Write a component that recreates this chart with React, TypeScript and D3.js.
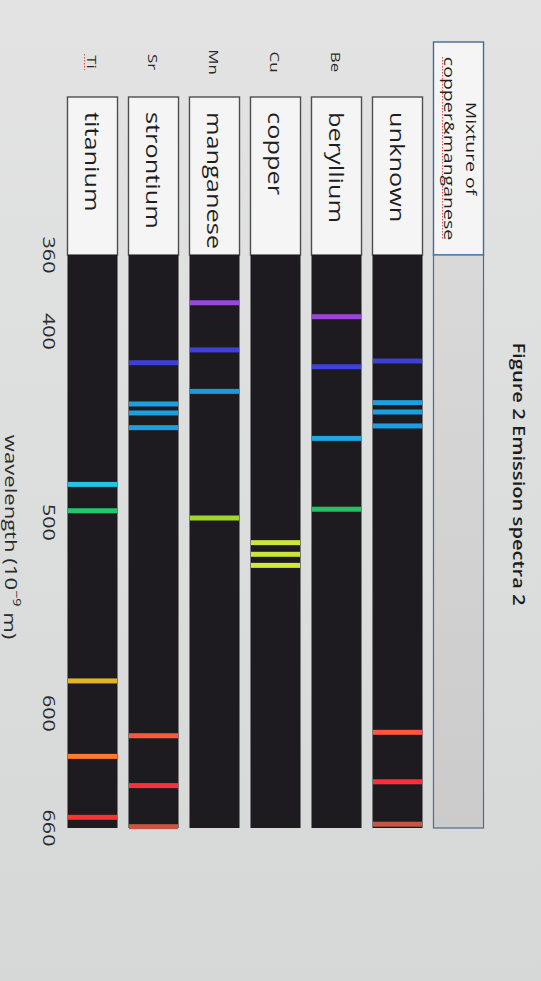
import React from "react";
import * as d3 from "d3";

const W = 541;
const H = 981;

// Spectrum rows, listed from the top of the figure downwards (before rotation)
const sampleKeys = ["mixture", "unknown", "beryllium", "copper", "manganese", "strontium", "titanium"];
const sampleNames = ["", "unknown", "beryllium", "copper", "manganese", "strontium", "titanium"];
const sampleSymbols = ["", "", "Be", "Cu", "Mn", "Sr", "Ti"];
const mixtureLabel = ["Mixture of", "copper&manganese"];

const wavelengthTicks = [360, 400, 500, 600, 660];

// Emission lines (nm) and their displayed colours
const unknownNm = [415.5, 437.3, 442.2, 449.5, 609.9, 635.8, 658.0];
const unknownHue = ["#3d3fd4", "#1f9fe0", "#1f9fe0", "#1f9fe0", "#ff573c", "#ff2f3a", "#c85640"];
const berylliumNm = [392.3, 418.5, 456.0, 493.1];
const berylliumHue = ["#9a44d6", "#3d42d8", "#22a6e2", "#26c163"];
const copperNm = [510.6, 516.7, 522.5];
const copperHue = ["#cde53a", "#cde53a", "#d3e83c"];
const manganeseNm = [385.0, 409.7, 431.4, 497.7];
const manganeseHue = ["#9a46dc", "#3f40d4", "#1e98e0", "#9fd62a"];
const strontiumNm = [416.4, 438.0, 442.7, 450.4, 611.7, 637.8, 659.3];
const strontiumHue = ["#3d3fd4", "#1f9fe0", "#1f9fe0", "#1f9fe0", "#ff573c", "#ff2f3a", "#c85640"];
const titaniumNm = [480.1, 493.9, 583.0, 622.5, 654.4];
const titaniumHue = ["#26c3e6", "#20c86a", "#e2b426", "#ff7a2c", "#ff3232"];

const spectra: Record<string, { nm: number[]; hue: string[] }> = {
  mixture: { nm: [], hue: [] },
  unknown: { nm: unknownNm, hue: unknownHue },
  beryllium: { nm: berylliumNm, hue: berylliumHue },
  copper: { nm: copperNm, hue: copperHue },
  manganese: { nm: manganeseNm, hue: manganeseHue },
  strontium: { nm: strontiumNm, hue: strontiumHue },
  titanium: { nm: titaniumNm, hue: titaniumHue },
};

const FONT = "'Open Sans', 'Noto Sans', sans-serif";
const STRETCH = 1.3;

export default function App() {
  const x = d3.scaleLinear().domain([360, 660]).range([255, 828]);
  const row = d3
    .scaleBand<string>()
    .domain(sampleKeys)
    .range([52, 479])
    .paddingInner(0.18)
    .paddingOuter(0.09);
  const bw = row.bandwidth();

  const labelStart = 97;
  const mixLabelStart = 42;
  const lineW = 5;

  const stretched = (u: number, v: number) => `translate(${u},${v}) scale(${STRETCH},1)`;

  return (
    <svg
      width={W}
      height={H}
      style={{ position: "absolute", left: 0, top: 0, display: "block" }}
    >
      <defs>
        <linearGradient id="bg" x1="0" y1="0" x2="0" y2="1">
          <stop offset="0" stopColor="#e3e3e3" />
          <stop offset="1" stopColor="#d6d8d8" />
        </linearGradient>
        <linearGradient id="mixFill" x1="0" y1="0" x2="1" y2="0">
          <stop offset="0" stopColor="#d9d9d9" />
          <stop offset="1" stopColor="#cbcbcb" />
        </linearGradient>
        <filter id="soft" x="-20%" y="-20%" width="140%" height="140%">
          <feGaussianBlur stdDeviation="0.6" />
        </filter>
      </defs>
      <rect width={W} height={H} fill="url(#bg)" />

      <g transform={`translate(${W},0) rotate(90)`} fontFamily={FONT}>
        {/* title */}
        <text
          transform={stretched(474, 22)}
          textAnchor="middle"
          dominantBaseline="central"
          fontSize={15.5}
          fontWeight={600}
          fill="#1c1c1c"
        >
          Figure 2 Emission spectra  2
        </text>

        {sampleKeys.map((key, i) => {
          const v0 = row(key)!;
          const vc = v0 + bw / 2;
          const isMix = key === "mixture";
          const s = spectra[key];
          return (
            <g key={key}>
              {/* name box */}
              <rect
                x={isMix ? mixLabelStart : labelStart}
                y={v0}
                width={x.range()[0] - (isMix ? mixLabelStart : labelStart)}
                height={bw}
                fill="#f5f5f5"
                stroke={isMix ? "#3f6b9e" : "#4e4e4e"}
                strokeWidth={1.4}
              />
              {/* spectrum strip */}
              <rect
                x={x.range()[0]}
                y={v0}
                width={x.range()[1] - x.range()[0]}
                height={bw}
                fill={isMix ? "url(#mixFill)" : "#1d1a20"}
                stroke={isMix ? "#4a6c96" : "none"}
                strokeWidth={isMix ? 1.2 : 0}
              />
              <g filter="url(#soft)">
                {s.nm.map((nm, j) => (
                  <rect
                    key={j}
                    x={x(nm) - lineW / 2}
                    y={v0 + 0.5}
                    width={lineW}
                    height={bw - 1}
                    fill={s.hue[j]}
                  />
                ))}
              </g>
              {sampleNames[i] && (
                <text
                  transform={stretched(112, vc)}
                  dominantBaseline="central"
                  fontSize={19.5}
                  fill="#1e1e1e"
                >
                  {sampleNames[i]}
                </text>
              )}
              {sampleSymbols[i] && (
                <text
                  transform={stretched(62, vc)}
                  textAnchor="middle"
                  dominantBaseline="central"
                  fontSize={13}
                  fill="#2a2a2a"
                >
                  {sampleSymbols[i]}
                </text>
              )}
              {sampleSymbols[i] === "Ti" && (
                <line
                  x1={54}
                  x2={70}
                  y1={vc + 8}
                  y2={vc + 8}
                  stroke="#d9534f"
                  strokeWidth={1}
                  strokeDasharray="1.5 1.5"
                />
              )}
              {isMix && (
                <g>
                  {mixtureLabel.map((t, k) => (
                    <text
                      key={t}
                      transform={stretched((mixLabelStart + x.range()[0]) / 2, v0 + 11 + k * 22)}
                      textAnchor="middle"
                      dominantBaseline="central"
                      fontSize={15}
                      fill="#1e1e1e"
                    >
                      {t}
                    </text>
                  ))}
                  <line
                    x1={57}
                    x2={240}
                    y1={v0 + 41}
                    y2={v0 + 41}
                    stroke="#d9534f"
                    strokeWidth={1}
                    strokeDasharray="1.5 1.5"
                  />
                </g>
              )}
            </g>
          );
        })}

        {/* wavelength tick labels */}
        {wavelengthTicks.map((t) => (
          <text
            key={t}
            transform={stretched(x(t), 492)}
            textAnchor="middle"
            dominantBaseline="central"
            fontSize={16.5}
            fill="#2a2a2a"
          >
            {t}
          </text>
        ))}

        {/* axis title */}
        <text
          transform={stretched(537, 530)}
          textAnchor="middle"
          dominantBaseline="central"
          fontSize={17}
          fill="#2a2a2a"
        >
          wavelength (10
          <tspan dy={-6} fontSize={11}>
            −9
          </tspan>
          <tspan dy={6}> m)</tspan>
        </text>
      </g>
    </svg>
  );
}
